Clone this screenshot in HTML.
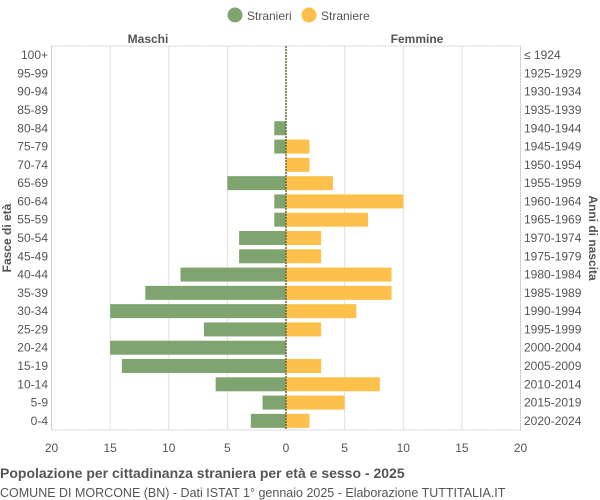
<!DOCTYPE html>
<html><head><meta charset="utf-8"><style>
body{margin:0;background:#fff;font-family:"Liberation Sans",sans-serif}
svg text{font-family:"Liberation Sans",sans-serif}
</style></head><body>
<svg id="c" style="position:absolute;left:0;top:0" width="600" height="500"></svg>
<script>
const ages=["100+","95-99","90-94","85-89","80-84","75-79","70-74","65-69","60-64","55-59","50-54","45-49","40-44","35-39","30-34","25-29","20-24","15-19","10-14","5-9","0-4"];
const years=["≤ 1924","1925-1929","1930-1934","1935-1939","1940-1944","1945-1949","1950-1954","1955-1959","1960-1964","1965-1969","1970-1974","1975-1979","1980-1984","1985-1989","1990-1994","1995-1999","2000-2004","2005-2009","2010-2014","2015-2019","2020-2024"];
const males=[0,0,0,0,1,1,0,5,1,1,4,4,9,12,15,7,15,14,6,2,3];
const females=[0,0,0,0,0,2,2,4,10,7,3,3,9,9,6,3,0,3,8,5,2];
const ticks=[20,15,10,5,0,5,10,15,20];
const NS="http://www.w3.org/2000/svg";
const svgEl=document.getElementById('c');
function mk(t,a,txt){const e=document.createElementNS(NS,t);for(const k in a)e.setAttribute(k,a[k]);if(txt!==undefined)e.textContent=txt;svgEl.appendChild(e);return e;}
const cx=286,ppu=11.725,plotTop=46,plotBot=430;
const X=v=>cx+v*ppu;
const rowH=(plotBot-plotTop)/ages.length;
const Y=i=>plotTop+rowH*(i+0.5);
for(let i=0;i<ticks.length;i++){const v=(i-4)*5;const x=X(v);
 const g=mk('line',{x1:x,x2:x,y1:plotTop,y2:plotBot,stroke:'#e0e0e0','stroke-width':1});
 
 
 const t=mk('text',{x:x,y:452,'text-anchor':'middle','font-size':12,fill:'#555'},ticks[i]);
 
 }
const bd=mk('rect',{x:X(-20),y:plotTop,width:X(20)-X(-20),height:plotBot-plotTop,fill:'none',stroke:'#ccc','stroke-dasharray':'2,1'});


for(let i=0;i<ages.length;i++){const y=Y(i);
 if(males[i]>0){const r=mk('rect',{x:X(-males[i]),y:y-7,width:males[i]*ppu,height:14,fill:'#7fa46f'});
  
  }
 if(females[i]>0){const r=mk('rect',{x:cx,y:y-7,width:females[i]*ppu,height:14,fill:'#fdc04a'});
  
  }
 const a=mk('text',{x:48,y:y+4,'text-anchor':'end','font-size':12,fill:'#555'},ages[i]);
 
 
 const b=mk('text',{x:524,y:y+4,'font-size':12,fill:'#555'},years[i]);
 
 }
const cl=mk('line',{x1:cx,x2:cx,y1:plotTop,y2:plotBot,stroke:'#6b6b3a','stroke-dasharray':'2,1','stroke-width':1.5});


</script>
<svg style="position:absolute;left:0;top:0" width="600" height="500">
<circle cx="235" cy="15" r="7.5" fill="#7fa46f"/>
<text x="247" y="20" font-size="12" fill="#555">Stranieri</text>
<circle cx="309" cy="15" r="7.5" fill="#fdc04a"/>
<text x="321" y="20" font-size="12" fill="#555">Straniere</text>
<text x="148" y="43" font-size="12" font-weight="bold" fill="#555" text-anchor="middle">Maschi</text>
<text x="417" y="43" font-size="12" font-weight="bold" fill="#555" text-anchor="middle">Femmine</text>
<text transform="translate(11,238) rotate(-90)" font-size="12" font-weight="bold" fill="#555" text-anchor="middle">Fasce di età</text>
<text transform="translate(589,238) rotate(90)" font-size="12" font-weight="bold" fill="#555" text-anchor="middle">Anni di nascita</text>
<text x="0" y="478" font-size="14" font-weight="bold" fill="#555">Popolazione per cittadinanza straniera per età e sesso - 2025</text>
<text x="0" y="497" font-size="12.5" fill="#555">COMUNE DI MORCONE (BN) - Dati ISTAT 1° gennaio 2025 - Elaborazione TUTTITALIA.IT</text>
</svg>
</body></html>
